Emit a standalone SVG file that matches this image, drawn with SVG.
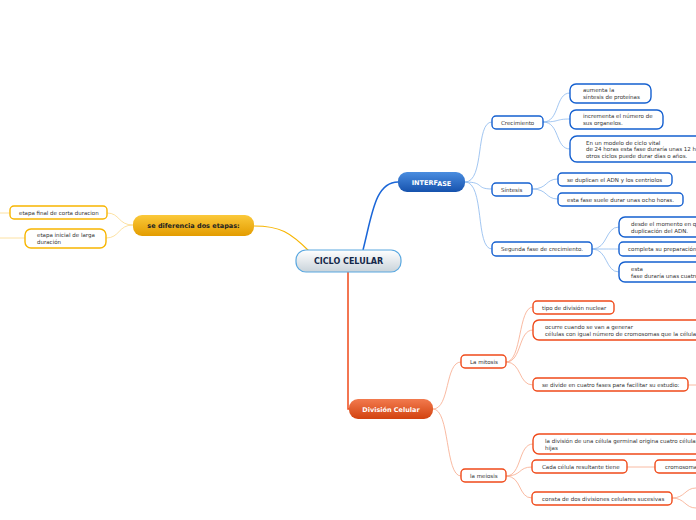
<svg xmlns="http://www.w3.org/2000/svg" width="696" height="520" viewBox="0 0 696 520">
<defs>
<linearGradient id="gc" x1="0" y1="0" x2="0" y2="1"><stop offset="0" stop-color="#ffffff"/><stop offset="1" stop-color="#c9d3da"/></linearGradient>
<linearGradient id="gb" x1="0" y1="0" x2="0" y2="1"><stop offset="0" stop-color="#4a8de0"/><stop offset="1" stop-color="#1652ad"/></linearGradient>
<linearGradient id="gy" x1="0" y1="0" x2="0" y2="1"><stop offset="0" stop-color="#fbc93a"/><stop offset="1" stop-color="#e39c00"/></linearGradient>
<linearGradient id="go" x1="0" y1="0" x2="0" y2="1"><stop offset="0" stop-color="#f27a4e"/><stop offset="1" stop-color="#d2420f"/></linearGradient>
</defs>
<style>
text{font-family:"DejaVu Sans",Verdana,sans-serif;fill:#333;font-size:5.5px}
.b{fill:#fff;stroke:#1560d0;stroke-width:1.4}
.o{fill:#fff;stroke:#f04a1a;stroke-width:1.4}
.y{fill:#fff;stroke:#f7b500;stroke-width:1.4}
.lb{fill:none;stroke:#8ab8ee;stroke-width:0.8}
.lo{fill:none;stroke:#f7a88a;stroke-width:0.8}
.ly{fill:none;stroke:#fbd98a;stroke-width:0.8}
.h{font-weight:bold;font-size:7.5px}
</style>
<g id="connectors">
<path d="M363,250 C372,215 375,182 398,182" fill="none" stroke="#1a66d8" stroke-width="1.5"/>
<path d="M310,252 C290,232 280,226 254,226" fill="none" stroke="#f7b500" stroke-width="1.2"/>
<path d="M348,272 L348,409 L352,409" fill="none" stroke="#f04a1a" stroke-width="1.5"/>
<path class="lb" d="M465,182 C485,182 475,122 492,122 M465,182 C485,182 475,189 492,189 M465,182 C485,182 475,249 492,249"/>
<path class="lb" d="M543,122 C560,122 555,93 570,93 M543,122 C560,122 555,119 570,119 M543,122 C560,122 555,149 570,149"/>
<path class="lb" d="M532,189 C548,189 545,179 558,179 M532,189 C548,189 545,199 558,199"/>
<path class="lb" d="M592,249 C608,249 605,227 619,227 M592,249 C608,249 605,249 619,249 M592,249 C608,249 605,272 619,272"/>
<path class="ly" d="M133,225 C118,225 120,213 107,213 M133,225 C118,225 120,238 106,238 M10,213 L0,213 M25,238 L0,238"/>
<path class="lo" d="M433,409 C450,409 445,362 461,362 M433,409 C450,409 445,476 461,476"/>
<path class="lo" d="M506,362 C522,362 518,307 533,307 M506,362 C522,362 518,330 533,330 M506,362 C522,362 518,385 533,385 M688,385 L696,385"/>
<path class="lo" d="M506,476 C522,476 518,444 533,444 M506,476 C522,476 518,467 532,467 M506,476 C522,476 518,498 532,498 M627,467 L655,467 M672,498 C685,498 685,488 696,488 M672,498 C685,498 685,508 696,508"/>
</g>
<g id="n-center"><rect x="296" y="250" width="105" height="22" rx="10" fill="url(#gc)" stroke="#5aa8e0" stroke-width="1.2"/><text x="348.5" y="264" text-anchor="middle" class="h" style="fill:#14284a;font-size:8px">CICLO CELULAR</text></g>
<g id="n-interfase"><rect x="398" y="172" width="67" height="20" rx="9" fill="url(#gb)"/><text x="431.5" y="185" text-anchor="middle" class="h" style="fill:#fff;font-size:6.5px">INTERF<tspan dy="1">ASE</tspan></text></g>
<g id="n-dif"><rect x="133" y="215" width="121" height="21" rx="9" fill="url(#gy)"/><text x="193.5" y="228" text-anchor="middle" class="h" style="fill:#222;font-size:6.5px">se diferencia dos etapas:</text></g>
<g id="n-div"><rect x="349" y="399" width="84" height="20" rx="9" fill="url(#go)"/><text x="391" y="412" text-anchor="middle" class="h" style="fill:#fff;font-size:6.5px">División Celular</text></g>
<g id="n-crec"><rect class="b" x="492" y="116" width="51" height="13" rx="4"/><text x="501" y="124.5">Crecimiento</text></g>
<g id="n-sint"><rect class="b" x="492" y="183" width="40" height="13" rx="4"/><text x="501" y="191.5">Síntesis</text></g>
<g id="n-seg"><rect class="b" x="492" y="242" width="100" height="14" rx="4"/><text x="501" y="251">Segunda fase de crecimiento.</text></g>
<g id="n-aum"><rect class="b" x="570" y="84" width="81" height="19" rx="6"/><text x="583" y="92">aumenta la</text><text x="583" y="99">síntesis de proteínas</text></g>
<g id="n-inc"><rect class="b" x="570" y="110" width="93" height="19" rx="6"/><text x="583" y="118">incrementa el número de</text><text x="583" y="125">sus organelos.</text></g>
<g id="n-mod"><rect class="b" x="570" y="136" width="140" height="26" rx="7"/><text x="586" y="145">En un modelo de ciclo vital</text><text x="586" y="151">de 24 horas esta fase duraría unas 12 horas</text><text x="586" y="157.5">otros ciclos puede durar días o años.</text></g>
<g id="n-dup"><rect class="b" x="558" y="173" width="114" height="13" rx="4"/><text x="567" y="181.5">se duplican el ADN y los centriolos</text></g>
<g id="n-ocho"><rect class="b" x="558" y="193" width="125" height="13" rx="4"/><text x="567" y="201.5">esta fase suele durar unas ocho horas.</text></g>
<g id="n-desde"><rect class="b" x="619" y="217" width="90" height="20" rx="6"/><text x="631" y="226">desde el momento en que termina la</text><text x="631" y="233">duplicación del ADN.</text></g>
<g id="n-comp"><rect class="b" x="619" y="242" width="90" height="14" rx="4"/><text x="628" y="251">completa su preparación para dividirse</text></g>
<g id="n-esta"><rect class="b" x="619" y="262" width="90" height="20" rx="6"/><text x="631" y="271">esta</text><text x="631" y="278">fase duraría unas cuatro horas</text></g>
<g id="n-etf"><rect class="y" x="10" y="206" width="97" height="13" rx="4"/><text x="19" y="214.5">etapa final de corta duracion</text></g>
<g id="n-eti"><rect class="y" x="25" y="229" width="81" height="19" rx="6"/><text x="37" y="237">etapa inicial de larga</text><text x="37" y="244">duración</text></g>
<g id="n-mit"><rect class="o" x="461" y="355" width="45" height="13" rx="4"/><text x="470" y="363.5">La mitosis</text></g>
<g id="n-mei"><rect class="o" x="461" y="469" width="45" height="13" rx="4"/><text x="470" y="477.5">la meiosis</text></g>
<g id="n-tipo"><rect class="o" x="533" y="301" width="81" height="13" rx="4"/><text x="542" y="309.5">tipo de división nuclear</text></g>
<g id="n-ocu"><rect class="o" x="533" y="320" width="180" height="20" rx="6"/><text x="545" y="329">ocurre cuando se van a generar</text><text x="545" y="336">células con igual número de cromosomas que la célula madre</text></g>
<g id="n-cuatro"><rect class="o" x="533" y="378" width="155" height="13" rx="4"/><text x="542" y="386.5">se divide en cuatro fases para facilitar su estudio:</text></g>
<g id="n-germ"><rect class="o" x="533" y="434" width="180" height="20" rx="6"/><text x="545" y="443">la división de una célula germinal origina cuatro células</text><text x="545" y="450">hijas</text></g>
<g id="n-cada"><rect class="o" x="532" y="460" width="95" height="13" rx="4"/><text x="542" y="468.5">Cada célula resultante tiene</text></g>
<g id="n-crom"><rect class="o" x="655" y="460" width="60" height="13" rx="4"/><text x="665" y="468.5">cromosomas</text></g>
<g id="n-consta"><rect class="o" x="532" y="492" width="140" height="13" rx="4"/><text x="542" y="500.5">consta de dos divisiones celulares sucesivas</text></g>
</svg>
